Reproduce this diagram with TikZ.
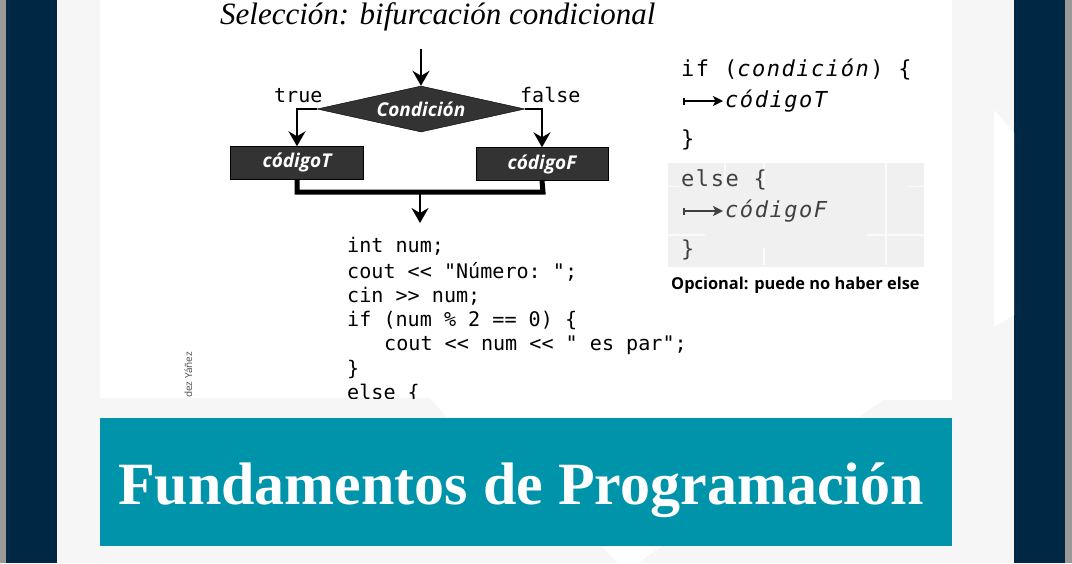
\documentclass[tikz,border=0pt]{standalone}
\usepackage{fontspec}
\setmainfont{Liberation Serif}
\setsansfont{Open Sans}
\setmonofont{DejaVu Sans Mono}
\newfontfamily\syntaxfont[LetterSpace=7]{DejaVu Sans Mono}
\usepackage{tikz}
\usetikzlibrary{calc,positioning,arrows.meta,shapes.geometric}
\definecolor{navy}{HTML}{002744}
\definecolor{teal2}{HTML}{0094AB}
\definecolor{lightbg}{HTML}{F6F6F6}
\definecolor{boxfill}{HTML}{333333}
\tikzstyle{process} = [rectangle, minimum height=33pt, text centered, draw=black, fill=boxfill, text=white, font=\sffamily\bfseries\itshape\fontsize{19}{22}\selectfont]
\tikzstyle{decision} = [diamond, aspect=4.6, inner sep=0pt, minimum width=208pt, minimum height=46pt, text centered, draw=black, fill=boxfill, text=white, font=\sffamily\bfseries\itshape\fontsize{19}{22}\selectfont]
\tikzstyle{arrow} = [line width=2.8pt,-{Stealth[length=15pt,width=17pt,inset=5pt]}]
\tikzstyle{arrow2} = [line width=5pt,-]
\tikzstyle{tabarrow} = [line width=1.6pt,{Bar[width=7pt,length=2pt]}-{Stealth[length=10pt,width=10pt,inset=2.5pt]}]
\tikzstyle{code} = [anchor=base west, inner sep=0pt, font=\ttfamily\fontsize{20.1}{22}\selectfont]
\tikzstyle{label} = [anchor=base west, inner sep=0pt, font=\ttfamily\fontsize{20}{22}\selectfont]
\tikzstyle{syntax} = [anchor=base west, inner sep=0pt, font=\syntaxfont\fontsize{22}{24}\selectfont]
\begin{document}
\begin{tikzpicture}[x=1pt,y=-1pt]
\useasboundingbox (0,0) rectangle (1072,563);
% fondo
\fill [lightbg] (0,0) rectangle (1072,563);
\fill [black!40] (0,0) rectangle (6,563);
\fill [black!40] (1065,0) rectangle (1072,563);
\fill [navy] (6,0) rectangle (57,563);
\fill [navy] (1014,0) rectangle (1065,563);
\fill [white] (100,0) rectangle (952,418);
\fill [lightbg] (100,398) -- (430,398) -- (447,418) -- (100,418) -- cycle;
\fill [lightbg] (883,400) -- (952,400) -- (952,418) -- (858,418) -- cycle;
\fill [white] (994,110) -- (1014,133) -- (1014,315) -- (994,327) -- cycle;
\fill [white] (602,546) -- (662,546) -- (638,563) -- (618,563) -- cycle;
% diagrama
\node (titulo) [anchor=base west,inner sep=0pt,font=\fontsize{31}{34}\selectfont\itshape] at (220,24) {Selección: bifurcación condicional};
\coordinate (entrada) at (421,49);
\node (cond) [decision] at (421,109) {Condición};
\node (codT) [process,minimum width=133pt] at (297,163) {códigoT};
\node (codF) [process,minimum width=132pt] at (542,164) {códigoF};
\coordinate (codoT) at (297,192);
\coordinate (codoF) at (543,192);
\coordinate (union) at (420,192);
\coordinate (salida) at (420,223);
\node (true) [label] at (274,102) {true};
\node (false) [label] at (520,102) {false};
\draw [arrow] (entrada) -- (cond.north);
\draw [arrow] (cond.west) -| (codT.north);
\draw [arrow] (cond.east) -| (codF.north);
\draw [arrow2] (codT.south) -- (codoT) -- (codoF) -- (codF.south);
\draw [arrow] (union) -- (salida);
% sintaxis
\fill [black!6] (668,163) rectangle (924,267);
\foreach \xa/\ya/\xb/\yb in {724/163/726/186,763/163/765/186,885/163/887/265,668/186/680/187,907/186/924/187,668/234/705/236,867/234/924/236,763/248/765/265}
  \fill [black!2] (\xa,\ya) rectangle (\xb,\yb);
\node (if) [syntax] at (681,76) {if (\textit{condición}) \{};
\coordinate (tabT) at (683,101);
\node (bloqT) [syntax] at (725,107) {\textit{códigoT}};
\draw [tabarrow] (tabT) -- ($(bloqT.base west)+(-2,-6)$);
\node (finT) [syntax] at (681,146) {\}};
\node (else) [syntax,text=black!75] at (681,186) {else \{};
\coordinate (tabF) at (683,211);
\node (bloqF) [syntax,text=black!75] at (725,217) {\textit{códigoF}};
\draw [tabarrow,black!75] (tabF) -- ($(bloqF.base west)+(-2,-6)$);
\node (finF) [syntax,text=black!75] at (681,256) {\}};
\node (opc) [anchor=base west,inner sep=0pt,font=\sffamily\bfseries\fontsize{16.4}{18}\selectfont] at (671,289) {Opcional: puede no haber else};
% codigo
\node (l1) [code] at (347,252) {int num;};
\node (l2) [code] at (347,278) {cout << "Número: ";};
\node (l3) [code] at (347,302) {cin >> num;};
\node (l4) [code] at (347,326) {if (num \% 2 == 0) \{};
\node (l5) [code] at (384,350) {cout << num << " es par";};
\node (l6) [code] at (347,375) {\}};
\begin{scope}
\clip (100,345) rectangle (952,398);
\node (l7) [code] at (347,399) {else \{};
\node (firma) [rotate=90,anchor=base west,inner sep=0pt,font=\sffamily\fontsize{10}{11}\selectfont,text=black!70] at (192,398) {dez Yáñez};
\end{scope}
% banner
\fill [teal2] (100,418) rectangle (952,546);
\node (fp) [anchor=base,inner sep=0pt,text=white,font=\bfseries\fontsize{60}{64}\selectfont] at (521,504) {Fundamentos de Programación};
\end{tikzpicture}
\end{document}
